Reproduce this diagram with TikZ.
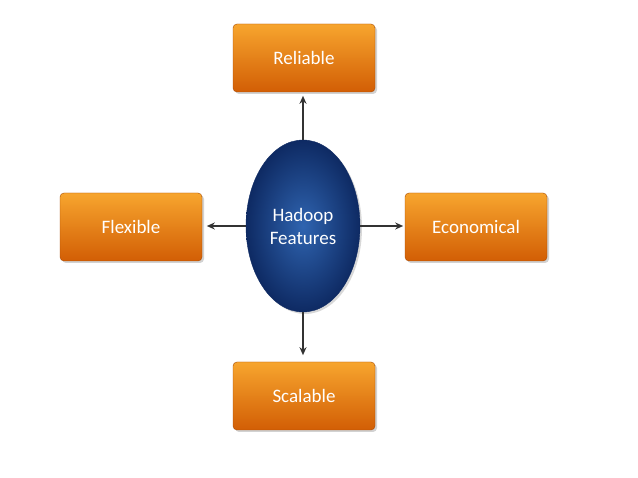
\documentclass[tikz,border=0pt]{standalone}
\usepackage{fontspec}
\setmainfont{Carlito}
\usetikzlibrary{shapes.geometric,shadows,arrows.meta}
\definecolor{orTop}{HTML}{F7A52E}
\definecolor{orBot}{HTML}{D25E05}
\definecolor{blIn}{HTML}{2F64B0}
\definecolor{blOut}{HTML}{0E2A63}
\tikzset{
  featbox/.style={rectangle, rounded corners=4pt, minimum width=142pt, minimum height=68pt,
    top color=orTop, bottom color=orBot, draw=orBot!80!black, line width=0.4pt,
    drop shadow={shadow xshift=2pt, shadow yshift=-2pt, opacity=0.35},
    text=white, font=\fontsize{19}{22}\selectfont},
  hub/.style={ellipse, minimum width=114pt, minimum height=172pt, inner color=blIn, outer color=blOut,
    draw=blOut, text=white, align=center, font=\fontsize{19}{23}\selectfont,
    drop shadow={shadow xshift=2pt, shadow yshift=-2pt, opacity=0.3}},
  conn/.style={-{Stealth[length=8pt,width=7pt]}, line width=1.3pt, draw=black!80}
}
\begin{document}
\begin{tikzpicture}[x=1pt,y=-1pt]
\useasboundingbox[fill=white] (0,0) rectangle (638,478);
\node[hub] (h) at (303,226) {Hadoop\\Features};
\node[featbox] (r) at (304,58) {Reliable};
\node[featbox] (f) at (131,227) {Flexible};
\node[featbox] (e) at (476,227) {Economical};
\node[featbox] (s) at (304,396) {Scalable};
\draw[conn] (h.north) -- ++(0,-44);
\draw[conn] (h.south) -- ++(0,43);
\draw[conn] (h.west) -- ++(-39,0);
\draw[conn] (h.east) -- ++(43,0);
\end{tikzpicture}
\end{document}
